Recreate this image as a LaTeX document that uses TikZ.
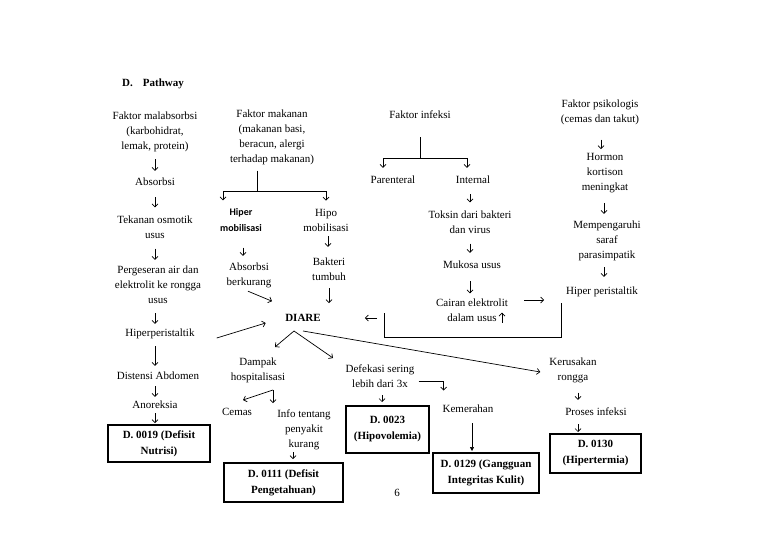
\documentclass[tikz,border=0pt]{standalone}
\usepackage{fontspec}
\setmainfont{Liberation Serif}
\newfontfamily\calibrifont{Carlito}
\usetikzlibrary{arrows.meta}

\tikzset{
  txt/.style={align=center, inner sep=1pt, font=\fontsize{11}{15}\selectfont},
  sanstxt/.style={txt, font=\calibrifont\bfseries\fontsize{10}{16}\selectfont},
  dxbox/.style={draw, line width=2pt, align=center, inner sep=1pt,
    font=\bfseries\fontsize{11}{16}\selectfont},
  ln/.style={line width=0.7pt},
  arr/.style={ln, -{Straight Barb[length=3pt,width=6pt]}},
  thinarr/.style={line width=0.5pt, -{Triangle[length=4pt,width=4pt]}},
}

\begin{document}
\begin{tikzpicture}[x=1pt, y=-1pt]
\useasboundingbox (0,0) rectangle (768,543);

\node[anchor=west, inner sep=0pt, font=\bfseries\fontsize{11}{13}\selectfont] (title) at (122,84) {D.\hspace{10pt}Pathway};

% malabsorbsi column
\node[txt] (malab) at (155,132) {Faktor malabsorbsi\\(karbohidrat,\\lemak, protein)};
\node[txt] (absorbsi) at (155,182) {Absorbsi};
\node[txt] (tekanan) at (155,227) {Tekanan osmotik\\usus};
\node[txt] (geser) at (158,285) {Pergeseran air dan\\elektrolit ke rongga\\usus};
\node[txt] (hiperper) at (160,334) {Hiperperistaltik};
\node[txt] (distensi) at (158,376) {Distensi Abdomen};
\node[txt] (anoreksia) at (155,405) {Anoreksia};
\node[dxbox, minimum width=102pt, minimum height=37pt] (dx0019) at (159,443.5) {D. 0019 (Defisit\\Nutrisi)};

\draw[arr, shorten <=6pt, shorten >=6pt] (malab.south) -- (malab.south |- absorbsi.north);
\draw[arr, shorten <=10pt, shorten >=7pt] (absorbsi.south) -- (absorbsi.south |- tekanan.north);
\draw[arr, shorten <=9pt, shorten >=5pt] (tekanan.south) -- (tekanan.south |- geser.north);
\draw[arr, shorten <=8pt, shorten >=4pt] ([xshift=-5pt]hiperper.north |- geser.south) -- ([xshift=-5pt]hiperper.north);
\draw[arr, shorten <=6pt, shorten >=5pt] ([xshift=-5pt]hiperper.south) -- ([xshift=-5pt]hiperper.south |- distensi.north);
\draw[arr, shorten <=5pt, shorten >=3pt] ([xshift=-3pt]distensi.south) -- ([xshift=-3pt]distensi.south |- anoreksia.north);
\draw[arr, shorten <=3pt, shorten >=1pt] (anoreksia.south) -- (anoreksia.south |- dx0019.north);

% makanan column
\node[txt] (makanan) at (272,137) {Faktor makanan\\(makanan basi,\\beracun, alergi\\terhadap makanan)};
\node[sanstxt] (hiper) at (241,220) {Hiper\\mobilisasi};
\node[txt] (hipo) at (326,220) {Hipo\\mobilisasi};
\node[txt] (absberk) at (249,275.5) {Absorbsi\\berkurang};
\node[txt] (bakteri) at (329,269.5) {Bakteri\\tumbuh};
\node[inner sep=1pt, font=\bfseries\fontsize{11}{13}\selectfont] (diare) at (303,318) {DIARE};

\coordinate (mkjoin) at (257,191);
\draw[ln, shorten <=5pt] (makanan.south -| mkjoin) -- (mkjoin);
\draw[arr, shorten >=7pt] (mkjoin) -| ([xshift=-18pt]hiper.north);
\draw[arr, shorten >=7pt] (mkjoin) -| (hipo.north);
\draw[arr, shorten <=15pt, shorten >=6pt] ([xshift=2pt]hiper.south) -- ([xshift=2pt]hiper.south |- absberk.north);
\draw[arr, shorten <=4pt, shorten >=10pt] ([xshift=2pt]hipo.south) -- ([xshift=2pt]hipo.south |- bakteri.north);
\draw[arr, shorten <=6pt] (bakteri.south) -- ++(0,21);
\draw[arr] ([shift={(-1,2)}]absberk.south) -- ++(24,10);
\draw[arr] ([shift={(21,4)}]hiperper.east) -- ++(49,-15);

% infeksi column
\node[txt] (infeksi) at (420,115) {Faktor infeksi};
\node[txt] (parent) at (393,180) {Parenteral};
\node[txt] (internal) at (473,180) {Internal};
\node[txt] (toksin) at (470,222) {Toksin dari bakteri\\dan virus};
\node[txt] (mukosa) at (472,265) {Mukosa usus};
\node[txt] (cairan) at (472,310) {Cairan elektrolit\\dalam usus};

\coordinate (ifjoin) at (420,158);
\draw[ln] (ifjoin) -- ++(0,-21);
\draw[arr, shorten >=7pt] (ifjoin) -| ([xshift=-10pt]parent.north);
\draw[arr, shorten >=7pt] (ifjoin) -| ([xshift=-6pt]internal.north);
\draw[arr, shorten <=9pt, shorten >=7pt] ([xshift=-3pt]internal.south) -- ([xshift=-3pt]internal.south |- toksin.north);
\draw[arr, shorten <=9pt, shorten >=7pt] (toksin.south) -- (toksin.south |- mukosa.north);
\draw[arr, shorten <=11pt, shorten >=4pt] ([xshift=-2pt]mukosa.south) -- ([xshift=-2pt]mukosa.south |- cairan.north);
\draw[arr] ([xshift=30pt]cairan.south) -- ++(0,-10);
\draw[arr] ([shift={(15,-10)}]cairan.east) -- ++(20,0);

% psikologis column
\node[txt] (psiko) at (600,112) {Faktor psikologis\\(cemas dan takut)};
\node[txt] (hormon) at (605,173) {Hormon\\kortison\\meningkat};
\node[txt] (mempeng) at (607,241) {Mempengaruhi\\saraf\\parasimpatik};
\node[txt] (hiperpst) at (602,292) {Hiper peristaltik};

\draw[arr, shorten <=14pt, shorten >=3pt] ([xshift=1pt]psiko.south) -- ([xshift=1pt]psiko.south |- hormon.north);
\draw[arr, shorten <=9pt, shorten >=6pt] ([xshift=-1pt]hormon.south) -- ([xshift=-1pt]hormon.south |- mempeng.north);
\draw[arr, shorten <=5pt, shorten >=9pt] ([xshift=-3pt]mempeng.south) -- ([xshift=-3pt]mempeng.south |- hiperpst.north);

\coordinate (fbR) at (561,337);
\coordinate (fbL) at (384,337);
\draw[ln, shorten <=5pt] (fbR |- hiperpst.south) -- (fbR) -- (fbL) -- ++(0,-24);
\draw[arr, shorten >=43pt] ([xshift=-7pt]fbL |- diare) -- (diare);

% akibat diare
\coordinate (apex) at (294,331);
\node[txt] (dampak) at (258,370) {Dampak\\hospitalisasi};
\node[txt] (cemas) at (237,412) {Cemas};
\node[txt] (info) at (304,430) {Info tentang\\penyakit\\kurang};
\node[dxbox, minimum width=119pt, minimum height=39pt] (dx0111) at (283.5,482.5) {D. 0111 (Defisit\\Pengetahuan)};
\node[txt] (defekasi) at (380,376.5) {Defekasi sering\\lebih dari 3x};
\node[dxbox, minimum width=83pt, minimum height=47pt] (dx0023) at (387.5,429.5) {D. 0023\\(Hipovolemia)};
\node[txt] (kemerahan) at (468,409) {Kemerahan};
\node[dxbox, minimum width=106pt, minimum height=40pt] (dx0129) at (486,473) {D. 0129 (Gangguan\\Integritas Kulit)};
\node[txt] (kerusakan) at (573,370) {Kerusakan\\rongga};
\node[txt] (proses) at (596,412) {Proses infeksi};
\node[dxbox, minimum width=91pt, minimum height=39pt] (dx0130) at (595.5,453.5) {D. 0130\\(Hipertermia)};

\draw[arr] (apex) -- ++(-19,16);
\draw[arr] (apex) -- ++(39,27);
\draw[arr] ([xshift=9pt]apex) -- ([shift={(-8,2)}]kerusakan.west);

\coordinate (hosp) at (273,390);
\draw[arr] (hosp) -- ++(-30,10);
\draw[arr] (hosp) -- ++(0,13);
\draw[arr, shorten <=1pt, shorten >=3pt] ([xshift=-11pt]info.south) -- ([xshift=-11pt]info.south |- dx0111.north);

\draw[arr, shorten <=6pt, shorten >=3pt] ([xshift=2pt]defekasi.south) -- ([xshift=2pt]defekasi.south |- dx0023.north);
\draw[arr] ([shift={(3,5)}]defekasi.east) -- ++(25,0) -- ++(0,9);
\draw[thinarr, shorten <=9pt, shorten >=1pt] ([xshift=4pt]kemerahan.south) -- ([xshift=4pt]kemerahan.south |- dx0129.north);

\draw[arr, shorten <=9pt, shorten >=7pt] ([xshift=5pt]kerusakan.south) -- ([xshift=5pt]kerusakan.south |- proses.north);
\draw[arr, shorten <=7pt, shorten >=1pt] ([xshift=-18pt]proses.south) -- ([xshift=-18pt]proses.south |- dx0130.north);

\node[txt] (pagenum) at (397,493) {6};
\end{tikzpicture}
\end{document}
